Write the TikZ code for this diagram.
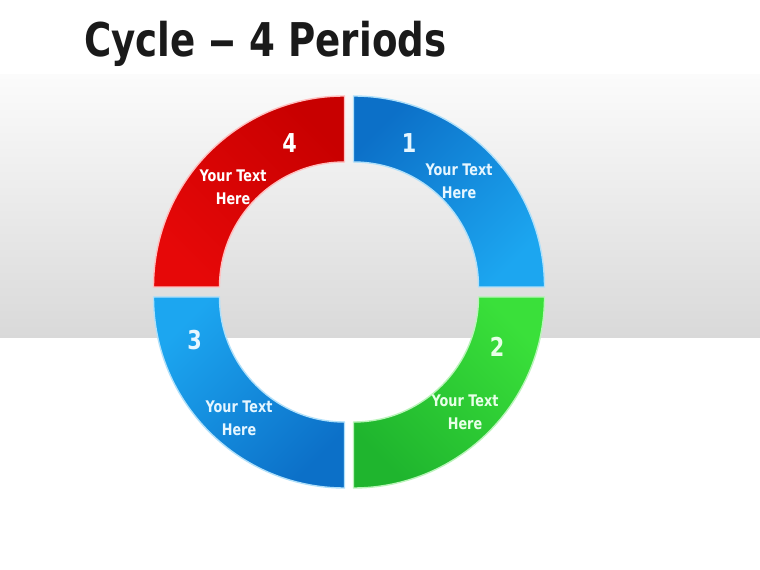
\documentclass[tikz,border=0pt]{standalone}
\usepackage{fontspec}
\newfontfamily\condbold[FakeStretch=0.8]{DejaVu Sans}
\usetikzlibrary{calc}
\definecolor{titlecol}{HTML}{1A1A1A}
\definecolor{redD}{HTML}{C80000}
\definecolor{redL}{HTML}{E60808}
\definecolor{blueD}{HTML}{0C70C8}
\definecolor{blueL}{HTML}{1CA6F0}
\definecolor{greenD}{HTML}{1FB52E}
\definecolor{greenL}{HTML}{3AE03A}
\definecolor{bgtop}{HTML}{FBFBFB}
\definecolor{bgbot}{HTML}{D9D9D9}
\definecolor{blueTxt}{HTML}{E6F6FF}
\definecolor{greenTxt}{HTML}{E8FFE8}
\tikzset{
  seg/.style={line width=1.4pt, line join=round},
  segtext/.style={align=center, inner sep=0pt, font=\condbold\bfseries\fontsize{16}{23}\selectfont},
  numtext/.style={inner sep=0pt, font=\condbold\bfseries\fontsize{26}{26}\selectfont},
}
\begin{document}
\begin{tikzpicture}[x=1pt,y=1pt]
\useasboundingbox (0,0) rectangle (760,570);
\fill[white] (0,0) rectangle (760,570);
\shade[top color=bgtop, bottom color=bgbot] (0,232) rectangle (760,495);
% title
\node[anchor=base west, inner sep=0pt, text=titlecol, font=\condbold\bfseries\fontsize{46.5}{46.5}\selectfont] (title) at (84,513) {Cycle \scalebox{1.5}[1]{–} 4 Periods};
% quadrant corners
\coordinate (cR) at (344.5,283);
\coordinate (cB1) at (353.5,283);
\coordinate (cG) at (353.5,273);
\coordinate (cB3) at (344.5,273);
% red (upper left)
\path[seg, draw=red!25, top color=redD, bottom color=redL, shading angle=-45]
  ($(cR)+(180:191pt)$) arc[start angle=180, end angle=90, radius=191pt]
  -- ($(cR)+(90:125pt)$) arc[start angle=90, end angle=180, radius=125pt] -- cycle;
% blue 1 (upper right)
\path[seg, draw=blueL!35, top color=blueD, bottom color=blueL, shading angle=45]
  ($(cB1)+(90:191pt)$) arc[start angle=90, end angle=0, radius=191pt]
  -- ($(cB1)+(0:125pt)$) arc[start angle=0, end angle=90, radius=125pt] -- cycle;
% green (lower right)
\path[seg, draw=greenL!35, top color=greenL, bottom color=greenD, shading angle=-45]
  ($(cG)+(0:191pt)$) arc[start angle=0, end angle=-90, radius=191pt]
  -- ($(cG)+(-90:125pt)$) arc[start angle=-90, end angle=0, radius=125pt] -- cycle;
% blue 3 (lower left)
\path[seg, draw=blueL!35, top color=blueL, bottom color=blueD, shading angle=45]
  ($(cB3)+(270:191pt)$) arc[start angle=270, end angle=180, radius=191pt]
  -- ($(cB3)+(180:125pt)$) arc[start angle=180, end angle=270, radius=125pt] -- cycle;
% numbers
\node[numtext, text=white] (n4) at (289.5,427) {4};
\node[numtext, text=blueTxt] (n1) at (409,427) {1};
\node[numtext, text=greenTxt] (n2) at (497,223.5) {2};
\node[numtext, text=blueTxt] (n3) at (194.5,230) {3};
% texts
\node[segtext, text=white] (t4) at (233,383) {Your Text\\Here};
\node[segtext, text=blueTxt] (t1) at (459,389) {Your Text\\Here};
\node[segtext, text=greenTxt] (t2) at (465,158) {Your Text\\Here};
\node[segtext, text=blueTxt] (t3) at (239,152) {Your Text\\Here};
\end{tikzpicture}
\end{document}
